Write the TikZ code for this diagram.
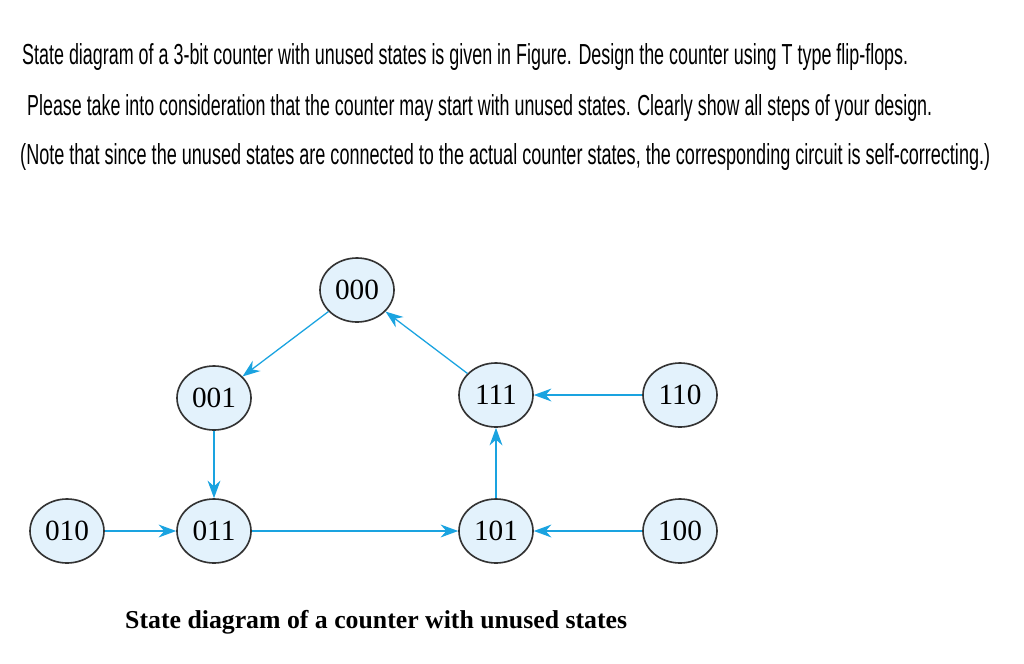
\documentclass[tikz,border=0pt]{standalone}
\usepackage{fontspec}
\setmainfont{Liberation Serif}
\newfontfamily\arialf{Liberation Sans}
\usetikzlibrary{arrows.meta,shapes.geometric}
\definecolor{arr}{HTML}{1AA3E0}
\definecolor{fillc}{HTML}{E3F2FC}
\tikzset{
 st/.style={draw=black!80,line width=1.4pt,fill=fillc,ellipse,minimum width=74*0.03cm,minimum height=64*0.03cm,inner sep=0pt,font=\fontsize{25}{25}\selectfont},
 ar/.style={draw=arr,line width=1.1pt,-{Stealth[length=15pt,width=11pt]}},
 tx/.style={anchor=west,inner sep=0pt}
}
\begin{document}
\begin{tikzpicture}[x=0.03cm,y=-0.03cm]
\useasboundingbox (0,0) rectangle (1024,663);
\node[tx] (t1) at (22,57) {\resizebox{886\dimexpr0.03cm\relax}{21\dimexpr0.03cm\relax}{\arialf State diagram of a 3-bit counter with unused states is given in Figure. Design the counter using T type flip-flops.}};
\node[tx] (t2) at (27,108) {\resizebox{905\dimexpr0.03cm\relax}{21\dimexpr0.03cm\relax}{\arialf Please take into consideration that the counter may start with unused states. Clearly show all steps of your design.}};
\node[tx] (t3) at (20,157) {\resizebox{970\dimexpr0.03cm\relax}{21\dimexpr0.03cm\relax}{\arialf (Note that since the unused states are connected to the actual counter states, the corresponding circuit  is self-correcting.)}};
\node[st] (s000) at (357,290) {000};
\node[st] (s001) at (214,398) {001};
\node[st] (s111) at (496,395) {111};
\node[st] (s110) at (680,395) {110};
\node[st] (s010) at (67,531) {010};
\node[st] (s011) at (214,531) {011};
\node[st] (s101) at (496,531) {101};
\node[st] (s100) at (680,531) {100};
\draw[ar] (s000) -- (s001);
\draw[ar] (s111) -- (s000);
\draw[ar] (s110) -- (s111);
\draw[ar] (s001) -- (s011);
\draw[ar] (s010) -- (s011);
\draw[ar] (s011) -- (s101);
\draw[ar] (s101) -- (s111);
\draw[ar] (s100) -- (s101);
\node[tx,font=\bfseries\fontsize{22}{22}\selectfont] (cap) at (125,622) {State diagram of a counter with unused states};
\end{tikzpicture}
\end{document}
